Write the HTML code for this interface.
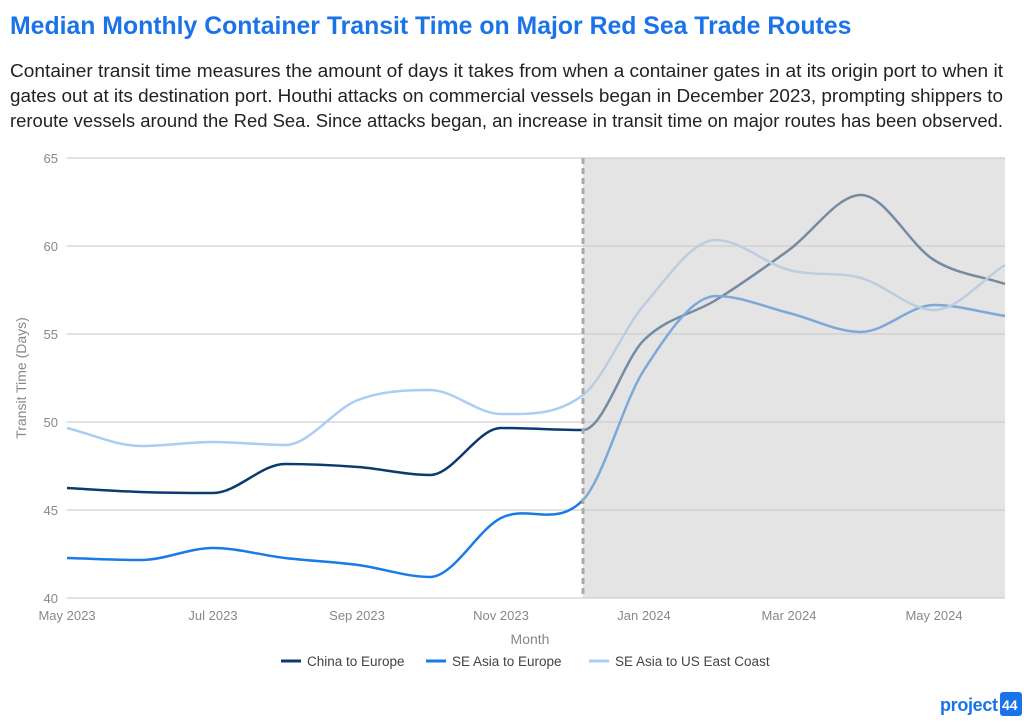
<!DOCTYPE html>
<html><head><meta charset="utf-8"><style>
body{margin:0;background:#fff;font-family:"Liberation Sans",sans-serif;}
.t{position:absolute;left:10px;top:13px;font-size:24.8px;font-weight:bold;color:#1a73e8;}
</style></head><body>
<div style="position:relative;width:1024px;height:725px;overflow:hidden">
<div class="t">Median Monthly Container Transit Time on Major Red Sea Trade Routes</div>
<svg id="c" width="1024" height="725" style="position:absolute;left:0;top:0" font-family="Liberation Sans, sans-serif">
<g font-size="18.6" fill="#222" lengthAdjust="spacingAndGlyphs">
<text x="10" y="77" textLength="993" lengthAdjust="spacingAndGlyphs">Container transit time measures the amount of days it takes from when a container gates in at its origin port to when it</text>
<text x="10" y="102" textLength="993" lengthAdjust="spacingAndGlyphs">gates out at its destination port. Houthi attacks on commercial vessels began in December 2023, prompting shippers to</text>
<text x="10" y="127" textLength="993" lengthAdjust="spacingAndGlyphs">reroute vessels around the Red Sea. Since attacks began, an increase in transit time on major routes has been observed.</text>
</g>
<g stroke="#c4c4c4" stroke-width="1">
<line x1="67" x2="1005" y1="158" y2="158"/><line x1="67" x2="1005" y1="246" y2="246"/>
<line x1="67" x2="1005" y1="334" y2="334"/><line x1="67" x2="1005" y1="422" y2="422"/>
<line x1="67" x2="1005" y1="510" y2="510"/><line x1="67" x2="1005" y1="598" y2="598"/>
</g>
<g id="lines" fill="none" stroke-width="2.5"></g>
<rect x="583" y="158" width="422" height="440" fill="rgba(205,205,205,0.55)"/>
<line x1="583" x2="583" y1="158" y2="598" stroke="#aaa" stroke-width="3" stroke-dasharray="6,4"/>
<g font-size="13" fill="#888" text-anchor="end">
<text x="58" y="163">65</text><text x="58" y="251">60</text><text x="58" y="339">55</text>
<text x="58" y="427">50</text><text x="58" y="515">45</text><text x="58" y="603">40</text>
</g>
<g font-size="13" fill="#888" text-anchor="middle">
<text x="67" y="620">May 2023</text><text x="213" y="620">Jul 2023</text><text x="357" y="620">Sep 2023</text>
<text x="501" y="620">Nov 2023</text><text x="644" y="620">Jan 2024</text><text x="789" y="620">Mar 2024</text>
<text x="934" y="620">May 2024</text>
<text x="530" y="644" font-size="14">Month</text>
<text transform="translate(26,378) rotate(-90)" font-size="14">Transit Time (Days)</text>
</g>
<g font-size="13.5" fill="#444">
<line x1="281" x2="301" y1="661" y2="661" stroke="#0b3a6e" stroke-width="3"/><text x="307" y="666">China to Europe</text>
<line x1="426" x2="446" y1="661" y2="661" stroke="#1a7ae8" stroke-width="3"/><text x="452" y="666">SE Asia to Europe</text>
<line x1="589" x2="609" y1="661" y2="661" stroke="#a9cdf4" stroke-width="3"/><text x="615" y="666">SE Asia to US East Coast</text>
</g>
<text x="940" y="711" font-size="18" font-weight="bold" fill="#1a73e8" textLength="58">project</text>
<rect x="1000" y="692" width="22" height="24" rx="3" fill="#1a73e8"/>
<text x="1002" y="710" font-size="14" font-weight="bold" fill="#fff">44</text>
</svg>
</div>
<script>
var S=[["#0b3a6e",[[67,488],[141,492],[213,493],[285,464],[358,467],[430,475],[501,428],[583,430],[644,340],[716,300],[789,250],[861,195],[934,260],[1005,284]]],
["#1a7ae8",[[67,558],[141,560],[213,548],[285,558],[358,565],[430,577],[501,518],[583,500],[644,370],[716,296],[789,313],[861,332],[934,305],[1005,316]]],
["#a9cdf4",[[67,428],[141,446],[213,442],[285,445],[358,400],[430,390],[501,414],[583,395],[644,305],[716,240],[789,270],[861,278],[934,310],[1005,265]]]];
var g=document.getElementById("lines"),h="";
S.forEach(function(s){var p=s[1],d="M"+p[0];
for(var i=0;i<p.length-1;i++){var a=p[i],b=p[i+1],pr=p[i-1]||a,nx=p[i+2]||b;
var m1=(b[1]-pr[1])/(b[0]-pr[0]),m2=(nx[1]-a[1])/(nx[0]-a[0]);
if(i>0&&(a[1]-pr[1])*(b[1]-a[1])<=0)m1=0;
if(i<p.length-2&&(b[1]-a[1])*(nx[1]-b[1])<=0)m2=0;
var dx=(b[0]-a[0])/3;d+=" C"+(a[0]+dx)+","+(a[1]+m1*dx)+" "+(b[0]-dx)+","+(b[1]-m2*dx)+" "+b[0]+","+b[1];}
h+='<path d="'+d+'" stroke="'+s[0]+'"/>';});
g.innerHTML=h;
</script>
</body></html>
